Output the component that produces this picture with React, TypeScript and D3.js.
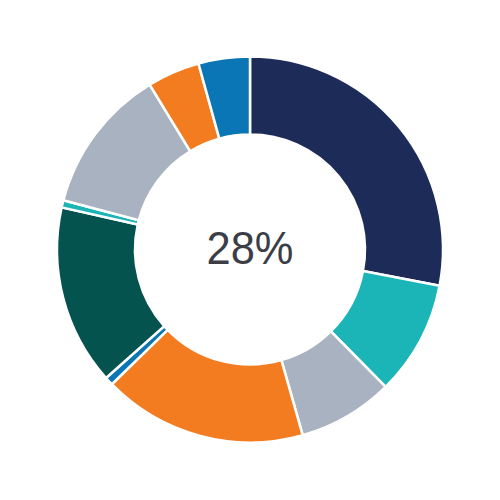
import { useEffect, useRef } from 'react'
import * as d3 from 'd3'

const labels = ['A', 'B', 'C', 'D', 'E', 'F', 'G', 'H', 'I', 'J']
const values = [28, 9.6, 8, 17.1, 0.7, 15.1, 0.6, 12.2, 4.4, 4.3]
const colors = ['#1d2b59', '#1bb5b8', '#a8b2c0', '#f37c21', '#0a76b6', '#04534f', '#1bb5b8', '#a8b2c0', '#f37c21', '#0a76b6']
const centerLabel = '28%'

export default function App() {
  const svgRef = useRef<SVGSVGElement>(null)

  useEffect(() => {
    if (!svgRef.current) return
    const width = 500
    const height = 500
    const outer = 193
    const inner = 115

    const svg = d3.select(svgRef.current)
    svg.selectAll('*').remove()
    svg.attr('width', width).attr('height', height)

    const g = svg.append('g').attr('transform', 'translate(250,249.5)')

    const data = labels.map((l, i) => ({ label: l, value: values[i], color: colors[i] }))
    const pie = d3.pie<typeof data[number]>().value(d => d.value).sort(null)
    const arc = d3.arc<d3.PieArcDatum<typeof data[number]>>().innerRadius(inner).outerRadius(outer)

    g.selectAll('path')
      .data(pie(data))
      .join('path')
      .attr('d', arc)
      .attr('fill', d => d.data.color)
      .attr('stroke', '#fff')
      .attr('stroke-width', 2.5)

    g.append('text')
      .attr('text-anchor', 'middle')
      .attr('y', 14)
      .attr('font-family', 'Liberation Sans, Arial, sans-serif')
      .attr('font-size', 47)
      .attr('textLength', 87)
      .attr('lengthAdjust', 'spacingAndGlyphs')
      .attr('fill', '#3b3e46')
      .text(centerLabel)
  }, [])

  return (
    <div style={{ margin: -8, width: 500, height: 500, background: '#fff' }}>
      <svg ref={svgRef} style={{ display: 'block' }} />
    </div>
  )
}
